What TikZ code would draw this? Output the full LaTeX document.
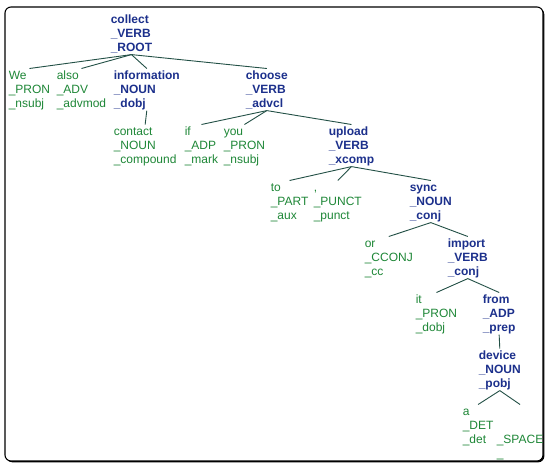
\documentclass[tikz,border=0pt]{standalone}
\usepackage{fontspec}
\setmainfont{Liberation Sans}
\usetikzlibrary{shadows}
\definecolor{hdblue}{RGB}{28,48,140}
\definecolor{lfgreen}{RGB}{30,135,55}
\definecolor{edgecol}{RGB}{35,80,70}
\newcommand\tsup{\rule{0pt}{10pt}}
\newcommand\tdep{\rule[-2.5pt]{0pt}{2.5pt}}
\tikzset{
  tn/.style={anchor=north west, inner sep=0pt, outer sep=0.8pt, align=left},
  hd/.style={tn, text=hdblue, font=\fontsize{12}{14}\selectfont\bfseries},
  lf/.style={tn, text=lfgreen, font=\fontsize{12}{14}\selectfont},
  edge/.style={draw=edgecol, line width=0.9pt},
  frame/.style={draw=black, line width=1.1pt, rounded corners=6pt, fill=white,
    drop shadow={shadow xshift=1.3pt, shadow yshift=-1.3pt, fill=black, opacity=1}}
}
\begin{document}
\begin{tikzpicture}[x=1pt,y=-1pt]
\useasboundingbox (0,0) rectangle (550,470);
\path[frame] (5,7) rectangle (543,461);

\node[hd] (collect) at (110,12.5) {\tsup collect\\\_VERB\\\_ROOT\tdep};
\node[lf] (we) at (8,68.5) {\tsup We\\\_PRON\\\_nsubj\tdep};
\node[lf] (also) at (56,68.5) {\tsup also\\\_ADV\\\_advmod\tdep};
\node[hd] (information) at (113,68.5) {\tsup information\\\_NOUN\\\_dobj\tdep};
\node[hd] (choose) at (245,68.5) {\tsup choose\\\_VERB\\\_advcl\tdep};
\node[lf] (contact) at (113,124.5) {\tsup contact\\\_NOUN\\\_compound\tdep};
\node[lf] (if) at (184,124.5) {\tsup if\\\_ADP\\\_mark\tdep};
\node[lf] (you) at (223,124.5) {\tsup you\\\_PRON\\\_nsubj\tdep};
\node[hd] (upload) at (328,124.5) {\tsup upload\\\_VERB\\\_xcomp\tdep};
\node[lf] (to) at (270,180.5) {\tsup to\\\_PART\\\_aux\tdep};
\node[lf] (comma) at (313,180.5) {\tsup ,\\\_PUNCT\\\_punct\tdep};
\node[hd] (sync) at (409,180.5) {\tsup sync\\\_NOUN\\\_conj\tdep};
\node[lf] (or) at (364,236.5) {\tsup or\\\_CCONJ\\\_cc\tdep};
\node[hd] (import) at (447,236.5) {\tsup import\\\_VERB\\\_conj\tdep};
\node[lf] (it) at (415,292.5) {\tsup it\\\_PRON\\\_dobj\tdep};
\node[hd] (from) at (482,292.5) {\tsup from\\\_ADP\\\_prep\tdep};
\node[hd] (device) at (478,348.5) {\tsup device\\\_NOUN\\\_pobj\tdep};
\node[lf] (a) at (462,404.5) {\tsup a\\\_DET\\\_det\tdep};
\node[lf] (space) at (496,404.5) {\tsup\\ \\\_SPACE\\\_\tdep};

\draw[edge] (collect.south) -- (we.north);
\draw[edge] (collect.south) -- (also.north);
\draw[edge] (collect.south) -- (information.north);
\draw[edge] (collect.south) -- (choose.north);
\draw[edge] (information.south) -- (contact.north);
\draw[edge] (choose.south) -- (if.north);
\draw[edge] (choose.south) -- (you.north);
\draw[edge] (choose.south) -- (upload.north);
\draw[edge] (upload.south) -- (to.north);
\draw[edge] (upload.south) -- (comma.north);
\draw[edge] (upload.south) -- (sync.north);
\draw[edge] (sync.south) -- (or.north);
\draw[edge] (sync.south) -- (import.north);
\draw[edge] (import.south) -- (it.north);
\draw[edge] (import.south) -- (from.north);
\draw[edge] (from.south) -- (device.north);
\draw[edge] (device.south) -- (a.north);
\draw[edge] (device.south) -- (space.north);
\end{tikzpicture}
\end{document}
